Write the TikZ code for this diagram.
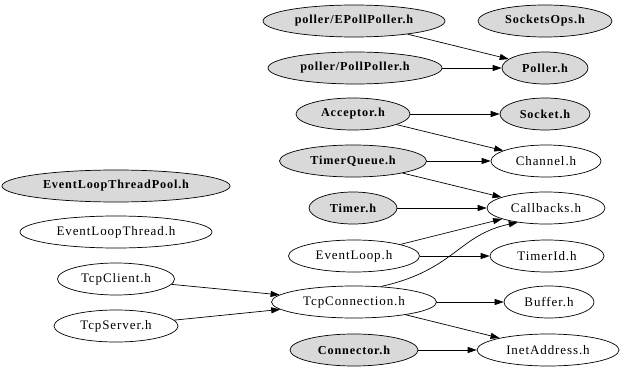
\documentclass[tikz,border=0pt]{standalone}
\usepackage{fontspec}
\setmainfont{Liberation Serif}[LetterSpace=7]
\usetikzlibrary{shapes.geometric,arrows.meta}
\begin{document}
\begin{tikzpicture}[x=1pt,y=-1pt,
  hdr/.style={ellipse,draw=black,line width=0.7pt,inner sep=0pt,minimum height=32pt,font=\fontsize{13}{14}\selectfont},
  grayhdr/.style={hdr,fill=gray!30,font=\fontsize{12.2}{14}\selectfont\bfseries},
  whitehdr/.style={hdr,fill=white},
  arr/.style={-{Triangle[length=9pt,width=6pt]},line width=0.7pt}]
\useasboundingbox (0,0) rectangle (623,374);
% right part
\node[grayhdr,minimum width=182pt] (epoll) at (354,21) {poller/EPollPoller.h};
\node[grayhdr,minimum width=134pt] (sops) at (545,21) {SocketsOps.h};
\node[grayhdr,minimum width=174pt] (poll) at (355,68) {poller/PollPoller.h};
\node[grayhdr,minimum width=86pt] (poller) at (545,68) {Poller.h};
\node[grayhdr,minimum width=114pt] (acc) at (353,114) {Acceptor.h};
\node[grayhdr,minimum width=90pt] (sock) at (545,114) {Socket.h};
\node[grayhdr,minimum width=147pt] (tq) at (353,161) {TimerQueue.h};
\node[whitehdr,minimum width=110pt] (chan) at (546,161) {Channel.h};
\node[grayhdr,minimum width=88pt] (timer) at (353,208) {Timer.h};
\node[whitehdr,minimum width=118pt] (cb) at (546,208) {Callbacks.h};
\node[whitehdr,minimum width=131pt] (el) at (354,256) {EventLoop.h};
\node[whitehdr,minimum width=114pt] (tid) at (547,256) {TimerId.h};
\node[whitehdr,minimum width=165pt] (tcp) at (354,302) {TcpConnection.h};
\node[whitehdr,minimum width=90pt] (buf) at (549,302) {Buffer.h};
\node[grayhdr,minimum width=128pt] (conn) at (354,350) {Connector.h};
\node[whitehdr,minimum width=142pt] (inet) at (548,350) {InetAddress.h};
% left part
\node[grayhdr,minimum width=228pt] (pool) at (116,186) {EventLoopThreadPool.h};
\node[whitehdr,minimum width=192pt] (elt) at (116,232) {EventLoopThread.h};
\node[whitehdr,minimum width=117pt] (cli) at (116,279) {TcpClient.h};
\node[whitehdr,minimum width=124pt] (srv) at (116,326) {TcpServer.h};
% edges
\draw[arr] (epoll) -- (poller);
\draw[arr] (poll) -- (poller);
\draw[arr] (acc) -- (sock);
\draw[arr] (acc) -- (chan);
\draw[arr] (tq) -- (chan);
\draw[arr] (tq) -- (cb);
\draw[arr] (timer) -- (cb);
\draw[arr] (el) -- (cb);
\draw[arr] (el) -- (tid);
\draw[arr] (tcp.30) .. controls (455,270) and (458,235) .. (cb.207);
\draw[arr] (tcp) -- (buf);
\draw[arr] (tcp) -- (inet);
\draw[arr] (conn) -- (inet);
\draw[arr] (cli) -- (tcp);
\draw[arr] (srv) -- (tcp);
\end{tikzpicture}
\end{document}
